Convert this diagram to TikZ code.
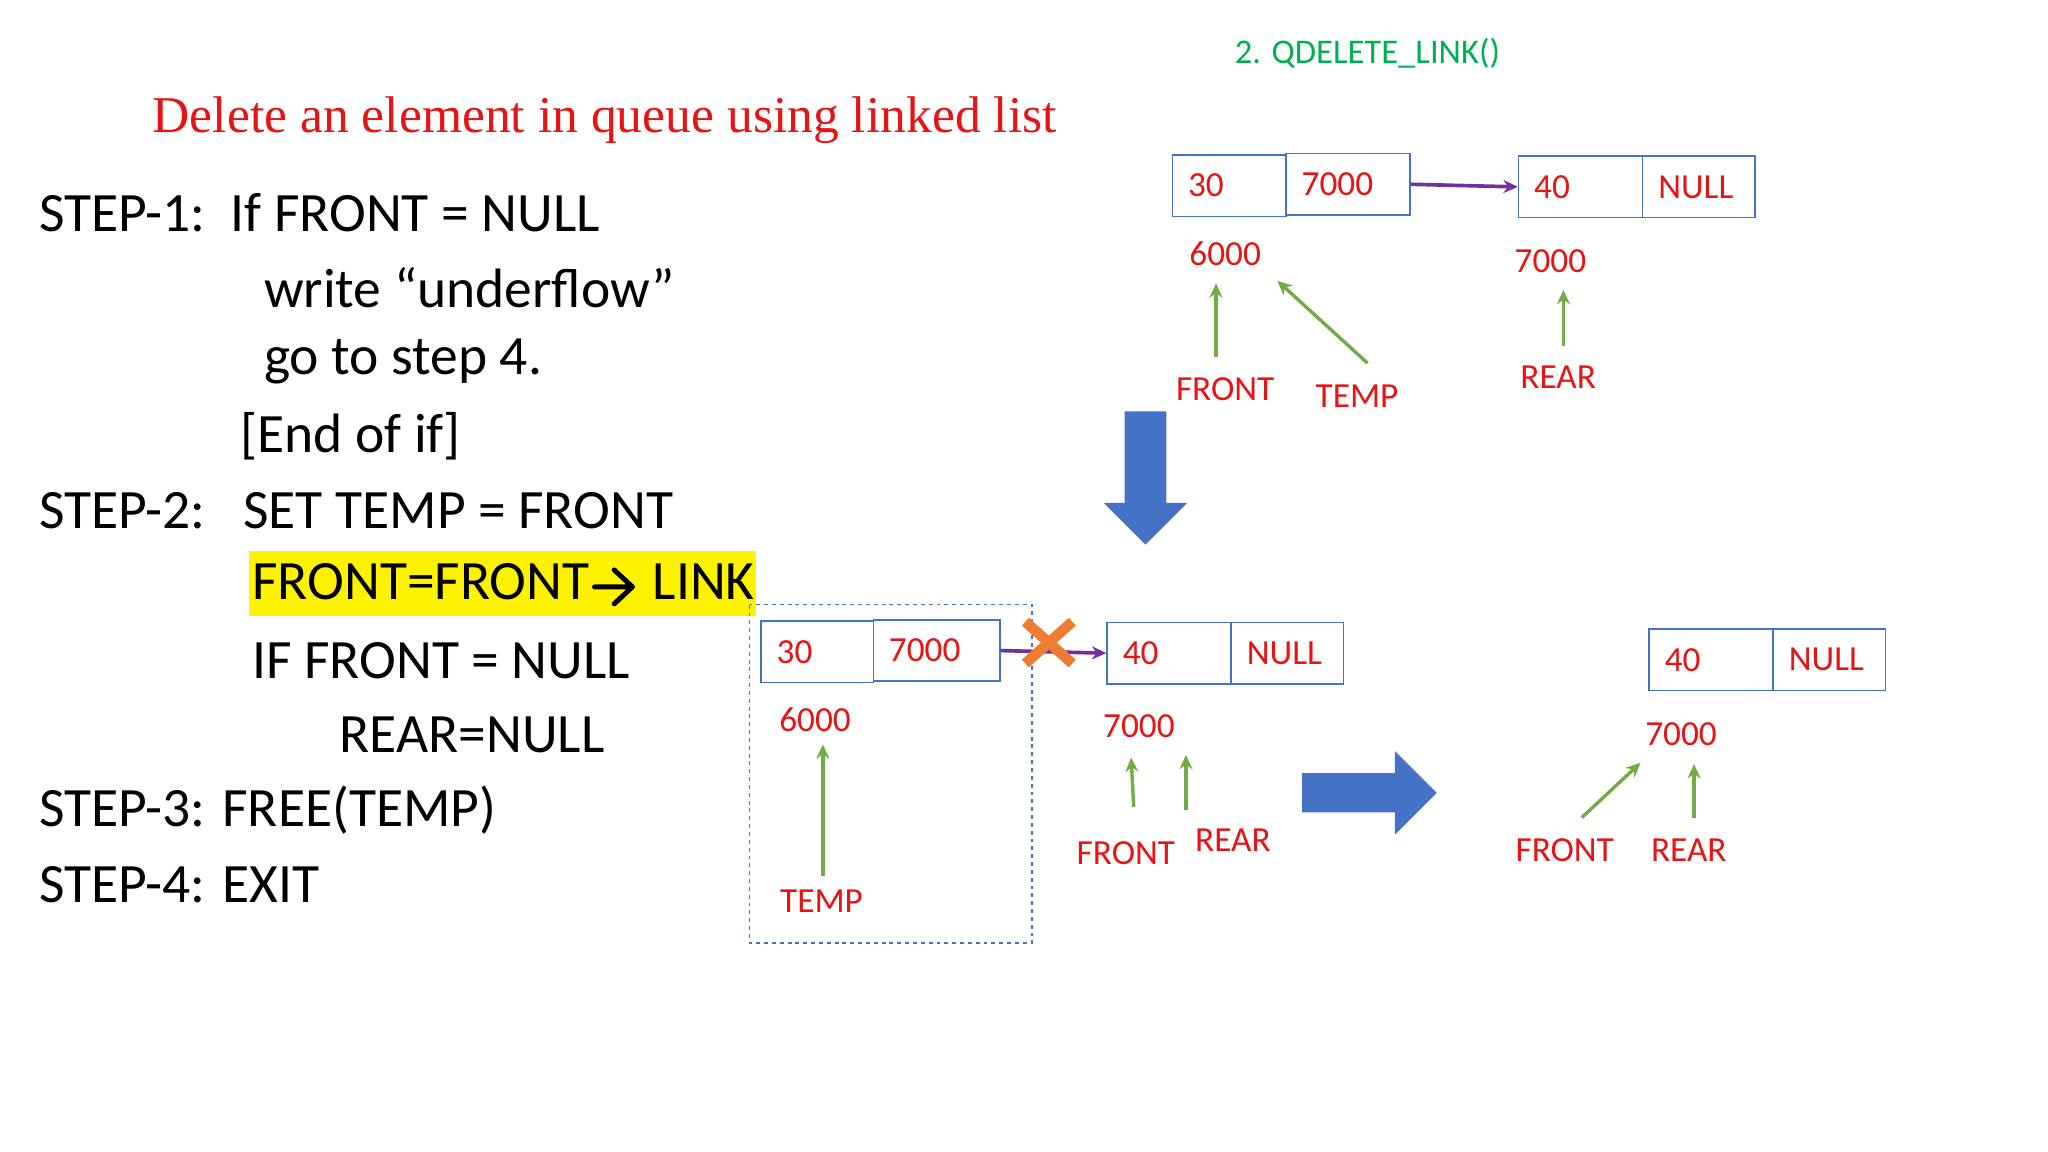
\documentclass[tikz,border=0pt]{standalone}
\usepackage{fontspec}
\setmainfont{Carlito}
\newfontfamily\tms{Liberation Serif}
\usetikzlibrary{arrows.meta,shapes.geometric}
\definecolor{tred}{RGB}{230,20,20}
\definecolor{bbord}{RGB}{68,114,196}
\definecolor{gar}{RGB}{112,173,71}
\definecolor{purp}{RGB}{112,48,160}
\definecolor{gtitle}{RGB}{0,176,80}
\definecolor{blarrow}{RGB}{68,114,196}
\definecolor{orx}{RGB}{237,125,49}
\begin{document}
\begin{tikzpicture}[x=1pt,y=-1pt,
  stp/.style={anchor=west,font=\fontsize{42.5}{45}\selectfont,inner sep=0pt},
  lab/.style={text=tred,font=\fontsize{27}{29}\selectfont,inner sep=0pt},
  cell/.style={draw=bbord,line width=1.2pt,minimum height=47pt,text=tred,font=\fontsize{27}{29}\selectfont,anchor=north west,inner sep=0pt},
  gar/.style={draw=gar,line width=2.6pt,-{Stealth[length=11pt,width=10pt]}},
  par/.style={draw=purp,line width=2.8pt,-{Stealth[length=11pt,width=10pt]}}]
\useasboundingbox (0,0) rectangle (1568,882);
\node[text=tred,font=\tms\fontsize{39.5}{42}\selectfont] (title) at (463,92) {Delete an element in queue using linked list};
\node[text=gtitle,font=\fontsize{26.5}{28}\selectfont] (qt) at (1047,41) {2. QDELETE\_LINK()};
% steps
\node[stp] (s1) at (30,163) {STEP-1:\ \ If FRONT = NULL};
\node[stp] (s1a) at (202,220) {write “underflow”};
\node[stp] (s1b) at (202,277) {go to step 4.};
\node[stp] (s1c) at (184,334) {[End of if]};
\node[stp] (s2) at (30,391) {STEP-2:\ \ \ SET TEMP = FRONT};
\fill[yellow] (191,422) rectangle (579,472);
\node[stp] (s2a) at (193,448) {FRONT=FRONT\hspace{2pt}\tikz[baseline=-10pt]\draw[line width=3.8pt,line cap=round,line join=round] (0,0)--(28pt,0) (15pt,-13pt)--(29pt,0)--(15pt,13pt);\hspace{4pt} LINK};
\node[stp] (s2b) at (193,506) {IF FRONT = NULL};
\node[stp] (s2c) at (260,563) {REAR=NULL};
\node[stp] (s3) at (30,620) {STEP-3: FREE(TEMP)};
\node[stp] (s4) at (30,677) {STEP-4: EXIT};
% top diagram
\node[cell,minimum width=87pt,text width=63pt] (a1) at (897,118) {30};
\node[cell,minimum width=95pt,text width=71pt] (a2) at (984,117) {7000};
\node[cell,minimum width=95pt,text width=71pt] (b1) at (1162,119) {40};
\node[cell,minimum width=86pt,text width=62pt] (b2) at (1257,119) {NULL};
\draw[par] (a2.east) -- (b1.west);
\node[lab] (l6000) at (938,194) {6000};
\node[lab] (l7000) at (1187,200) {7000};
\node[lab] (fr1) at (938,298) {FRONT};
\node[lab] (tp1) at (1039,303) {TEMP};
\node[lab] (re1) at (1193,289) {REAR};
\coordinate (f1s) at (931,273); \coordinate (f1e) at (931,217);
\coordinate (t1s) at (1047,278); \coordinate (t1e) at (978,215);
\coordinate (r1s) at (1197,265); \coordinate (r1e) at (1197,222);
\draw[gar] (f1s) -- (f1e); \draw[gar] (t1s) -- (t1e); \draw[gar] (r1s) -- (r1e);
% down arrow
\fill[blarrow] (861,315) -- (893,315) -- (893,385) -- (909,385) -- (877,417) -- (845,385) -- (861,385) -- cycle;
% middle diagram
\draw[bbord,dashed,line width=1pt] (574,463) rectangle (790,722);
\node[cell,minimum width=86pt,text width=62pt] (c1) at (582,475) {30};
\node[cell,minimum width=97pt,text width=73pt] (c2) at (668,474) {7000};
\node[cell,minimum width=95pt,text width=71pt] (d1) at (847,476) {40};
\node[cell,minimum width=86pt,text width=62pt] (d2) at (942,476) {NULL};
\draw[par] (c2.east) -- (d1.west);
\draw[orx,line width=8pt] (785,476) -- (821,508) (785,508) -- (821,476);
\node[lab] (m6000) at (624,551) {6000};
\node[lab] (tp2) at (629,690) {TEMP};
\coordinate (t2s) at (630,671); \coordinate (t2e) at (630,570);
\draw[gar] (t2s) -- (t2e);
\node[lab] (m7000) at (872,556) {7000};
\node[lab] (fr2) at (862,653) {FRONT};
\node[lab] (re2) at (944,643) {REAR};
\coordinate (f2s) at (868,618); \coordinate (f2e) at (866,580);
\coordinate (r2s) at (908,620); \coordinate (r2e) at (908,578);
\draw[gar] (f2s) -- (f2e); \draw[gar] (r2s) -- (r2e);
% right arrow
\fill[blarrow] (997,592) -- (1068,592) -- (1068,575) -- (1100,607) -- (1068,639) -- (1068,622) -- (997,622) -- cycle;
% right diagram
\node[cell,minimum width=95pt,text width=71pt] (e1) at (1262,481) {40};
\node[cell,minimum width=86pt,text width=62pt] (e2) at (1357,481) {NULL};
\node[lab] (r7000) at (1287,562) {7000};
\node[lab] (fr3) at (1198,651) {FRONT};
\node[lab] (re3) at (1293,651) {REAR};
\coordinate (f3s) at (1211,626); \coordinate (f3e) at (1256,584);
\coordinate (r3s) at (1297,626); \coordinate (r3e) at (1297,585);
\draw[gar] (f3s) -- (f3e); \draw[gar] (r3s) -- (r3e);
\end{tikzpicture}
\end{document}
